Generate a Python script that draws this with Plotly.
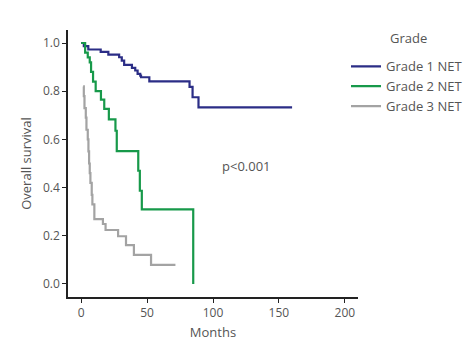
import plotly.graph_objects as go

# Kaplan-Meier step data (months, survival)
g1_months = [0, 2, 5.4, 14.8, 20.6, 28.8, 30.8, 32.6, 38.5, 41, 42.8, 44.8, 45.4, 51.7, 82.2, 84.5, 89, 160]
g1_surv = [1.0, 0.987, 0.973, 0.963, 0.952, 0.941, 0.927, 0.909, 0.897, 0.886, 0.872, 0.865, 0.858, 0.841, 0.818, 0.775, 0.733, 0.733]

g2_months = [0, 3, 5, 6.5, 7.5, 9, 11, 15, 17.5, 21, 26, 27, 43.3, 44.5, 46, 85]
g2_surv = [1.0, 0.96, 0.94, 0.92, 0.88, 0.84, 0.80, 0.765, 0.727, 0.683, 0.636, 0.551, 0.47, 0.387, 0.31, 0.0]

g3_months = [1.5, 2, 2.5, 3.5, 4, 5, 5.5, 6, 6.5, 7, 8, 8.5, 10, 16.5, 18.5, 28, 34, 40, 53, 71.5]
g3_surv = [0.82, 0.78, 0.73, 0.69, 0.64, 0.60, 0.55, 0.50, 0.46, 0.42, 0.37, 0.33, 0.269, 0.249, 0.224, 0.198, 0.161, 0.121, 0.079, 0.079]

series_names = ["Grade 1 NET", "Grade 2 NET", "Grade 3 NET"]
series_colors = ["#2B2D86", "#17994A", "#A3A3A3"]

x_ticks = [0, 50, 100, 150, 200]
y_ticks = [0.0, 0.2, 0.4, 0.6, 0.8, 1.0]
y_tick_labels = ["0.0", "0.2", "0.4", "0.6", "0.8", "1.0"]

FONT = "Open Sans"
TXT = "#555555"

fig = go.Figure()
for xs, ys, name, col in zip([g1_months, g2_months, g3_months],
                             [g1_surv, g2_surv, g3_surv],
                             series_names, series_colors):
    fig.add_trace(go.Scatter(x=xs, y=ys, mode="lines", name=name,
                             line=dict(color=col, width=2.2, shape="hv")))

fig.add_annotation(x=105, y=0.49, xref="x", yref="y", text="p<0.001",
                   showarrow=False, xanchor="left", yanchor="middle",
                   font=dict(family=FONT, size=13, color=TXT))
fig.add_annotation(x=(388 - 68) / 290, y=1 - (38 - 30) / 267, xref="paper", yref="paper",
                   text="Grade", showarrow=False, xanchor="left", yanchor="middle",
                   font=dict(family=FONT, size=13, color=TXT))

fig.update_layout(
    width=474, height=351,
    margin=dict(l=68, r=116, t=30, b=54, autoexpand=False),
    paper_bgcolor="white", plot_bgcolor="white",
    font=dict(family=FONT, size=12, color=TXT),
    showlegend=True,
    legend=dict(x=(346 - 68) / 290, xanchor="left", y=0.92, yanchor="top",
                font=dict(family=FONT, size=13, color=TXT),
                itemwidth=30, tracegroupgap=0, bgcolor="rgba(0,0,0,0)"),
    xaxis=dict(range=[-10, 210], tickvals=x_ticks, showgrid=False, zeroline=False,
               showline=True, linecolor="#222222", linewidth=1.5,
               ticks="outside", ticklen=4, tickcolor="#222222",
               tickfont=dict(family=FONT, size=12, color=TXT),
               title=dict(text="Months", font=dict(family=FONT, size=13, color=TXT), standoff=8)),
    yaxis=dict(range=[-0.054, 1.054], tickvals=y_ticks, ticktext=y_tick_labels,
               showgrid=False, zeroline=False,
               showline=True, linecolor="#222222", linewidth=1.5,
               ticks="outside", ticklen=4, tickcolor="#222222",
               tickfont=dict(family=FONT, size=12, color=TXT),
               title=dict(text="Overall survival", font=dict(family=FONT, size=13, color=TXT), standoff=8)),
)

fig.write_html("out.html")
